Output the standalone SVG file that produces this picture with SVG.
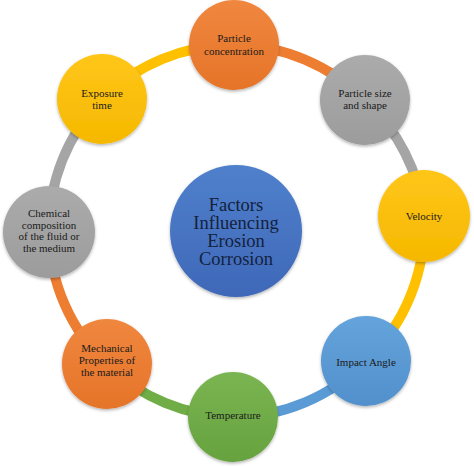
<svg xmlns="http://www.w3.org/2000/svg" width="474" height="466" viewBox="0 0 474 466">
<defs>
<linearGradient id="gOr" x1="0" y1="0" x2="0" y2="1"><stop offset="0" stop-color="#F0873F"/><stop offset="1" stop-color="#E57428"/></linearGradient>
<linearGradient id="gGr" x1="0" y1="0" x2="0" y2="1"><stop offset="0" stop-color="#ABABAB"/><stop offset="1" stop-color="#9C9C9C"/></linearGradient>
<linearGradient id="gYe" x1="0" y1="0" x2="0" y2="1"><stop offset="0" stop-color="#FFC619"/><stop offset="1" stop-color="#F5B800"/></linearGradient>
<linearGradient id="gBl" x1="0" y1="0" x2="0" y2="1"><stop offset="0" stop-color="#65A3DB"/><stop offset="1" stop-color="#5190CC"/></linearGradient>
<linearGradient id="gGn" x1="0" y1="0" x2="0" y2="1"><stop offset="0" stop-color="#7AB552"/><stop offset="1" stop-color="#66A23E"/></linearGradient>
<linearGradient id="gC" x1="0" y1="0" x2="0" y2="1"><stop offset="0" stop-color="#5080CC"/><stop offset="1" stop-color="#3E68B8"/></linearGradient>
<filter id="sh" x="-20%" y="-20%" width="140%" height="140%"><feDropShadow dx="0" dy="1.5" stdDeviation="1.5" flood-color="#000" flood-opacity="0.3"/></filter>
</defs>
<style>
.arc{fill:none;stroke-width:10}
.t{font-family:'Liberation Serif','DejaVu Serif','Times New Roman',serif;font-size:11px;fill:#1a1a1a;text-anchor:middle}
.ct{font-family:'Liberation Serif','DejaVu Serif','Times New Roman',serif;font-size:18.5px;fill:#14213d;text-anchor:middle}
.n{filter:url(#sh)}
</style>
<rect width="474" height="466" fill="#fff"/>
<g id="connectors">
<path class="arc" stroke="#ED7D31" d="M234,45 A187,187 0 0 1 365,100"/>
<path class="arc" stroke="#A5A5A5" d="M365,100 A187,187 0 0 1 424,216"/>
<path class="arc" stroke="#FFC000" d="M424,216 A187,187 0 0 1 366,361"/>
<path class="arc" stroke="#5B9BD5" d="M366,361 A187,187 0 0 1 233,417"/>
<path class="arc" stroke="#70AD47" d="M233,417 A187,187 0 0 1 107,365"/>
<path class="arc" stroke="#ED7D31" d="M107,365 A187,187 0 0 1 49,232"/>
<path class="arc" stroke="#A5A5A5" d="M49,232 A187,187 0 0 1 102,99"/>
<path class="arc" stroke="#FFC000" d="M102,99 A187,187 0 0 1 234,45"/>
</g>
<g id="center">
<circle class="n" cx="236" cy="231" r="66" fill="url(#gC)"/>
<text class="ct" x="236" y="211">Factors</text>
<text class="ct" x="236" y="229">Influencing</text>
<text class="ct" x="236" y="247">Erosion</text>
<text class="ct" x="236" y="265">Corrosion</text>
</g>
<g id="particle-concentration">
<circle class="n" cx="234" cy="45" r="45" fill="url(#gOr)"/>
<text class="t" x="234" y="42">Particle</text>
<text class="t" x="234" y="55">concentration</text>
</g>
<g id="particle-size">
<circle class="n" cx="365" cy="100" r="45" fill="url(#gGr)"/>
<text class="t" x="365" y="97">Particle size</text>
<text class="t" x="365" y="109">and shape</text>
</g>
<g id="velocity">
<circle class="n" cx="424" cy="216" r="46" fill="url(#gYe)"/>
<text class="t" x="424" y="220">Velocity</text>
</g>
<g id="impact-angle">
<circle class="n" cx="366" cy="361" r="45" fill="url(#gBl)"/>
<text class="t" x="366" y="366">Impact Angle</text>
</g>
<g id="temperature">
<circle class="n" cx="233" cy="417" r="45" fill="url(#gGn)"/>
<text class="t" x="233" y="419">Temperature</text>
</g>
<g id="mechanical">
<circle class="n" cx="107" cy="364" r="45" fill="url(#gOr)"/>
<text class="t" x="107" y="352">Mechanical</text>
<text class="t" x="107" y="364">Properties of</text>
<text class="t" x="107" y="376">the material</text>
</g>
<g id="chemical">
<circle class="n" cx="49" cy="232" r="46" fill="url(#gGr)"/>
<text class="t" x="49" y="217">Chemical</text>
<text class="t" x="49" y="229">composition</text>
<text class="t" x="49" y="240">of the fluid or</text>
<text class="t" x="49" y="252">the medium</text>
</g>
<g id="exposure">
<circle class="n" cx="102" cy="99" r="45" fill="url(#gYe)"/>
<text class="t" x="102" y="97">Exposure</text>
<text class="t" x="102" y="109">time</text>
</g>
</svg>
